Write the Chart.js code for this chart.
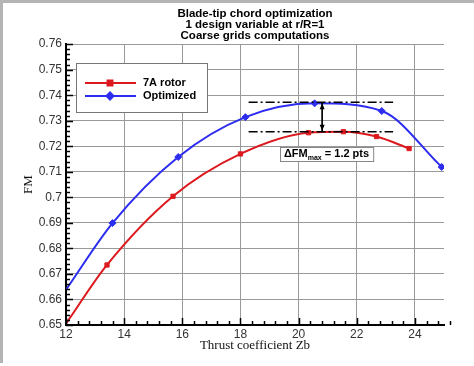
<!DOCTYPE html>
<html lang="en">
<head>
  <meta charset="UTF-8">
  <title>Blade-tip chord optimization</title>
  <script src="https://cdn.jsdelivr.net/npm/chart.js"></script>
  <style>
    body {
      margin: 0;
      background-color: #fff;
    }
    #myChart {
      display: block;
    }
  </style>
</head>
<body>
  <canvas id="myChart" width="474" height="366"></canvas>

  <script>
    // Values.
    const titleLines = ['Blade-tip chord optimization', '1 design variable at r/R=1', 'Coarse grids computations'];
    const xTicks = [12, 14, 16, 18, 20, 22, 24];
    const yTicks = [0.65, 0.66, 0.67, 0.68, 0.69, 0.7, 0.71, 0.72, 0.73, 0.74, 0.75, 0.76];

    // 7A rotor: first point is the curve start only (no symbol)
    const rotorX = [12, 13.41, 15.68, 18.0, 20.34, 21.54, 22.68, 23.8];
    const rotorY = [0.6505, 0.6735, 0.7004, 0.7170, 0.7253, 0.7257, 0.7238, 0.7191];
    const rotorMarked = [false, true, true, true, true, true, true, true];

    const optX = [12, 13.6, 15.86, 18.17, 20.55, 22.86, 24.92];
    const optY = [0.6638, 0.6899, 0.7158, 0.7314, 0.7368, 0.7338, 0.7119];
    const optMarked = [false, true, true, true, true, true, true];

    // dash-dot reference levels and the arrow between them
    const refLineX = [18.28, 23.25];
    const refTopY = 0.7372;
    const refBottomY = 0.7257;
    const arrowX = 20.81;
    const noteX = 20.96;
    const noteY = 0.7169;

    const xMinorStep = 0.4;
    const yMinorStep = 0.002;

    const red = 'rgb(220, 25, 30)';
    const blue = 'rgb(45, 45, 240)';

    function toPoints(xs, ys) {
      return xs.map((x, i) => ({ x: x, y: ys[i] }));
    }

    // gray frame on top/left like the original figure
    const framePlugin = {
      id: 'frame',
      beforeDraw(chart) {
        const ctx = chart.ctx;
        ctx.save();
        ctx.fillStyle = '#fff';
        ctx.fillRect(0, 0, chart.width, chart.height);
        ctx.fillStyle = '#b4b4b4';
        ctx.fillRect(0, 0, chart.width, 3);
        ctx.fillRect(0, 0, 3, 363);
        ctx.restore();
      }
    };

    // inward major/minor tick marks, legend box, delta note
    const extrasPlugin = {
      id: 'extras',
      afterDraw(chart) {
        const ctx = chart.ctx;
        const xs = chart.scales.x;
        const ys = chart.scales.y;
        const area = chart.chartArea;
        ctx.save();
        ctx.strokeStyle = '#000';
        ctx.lineWidth = 1.5;
        ctx.beginPath();
        const nX = Math.round((xs.max - xs.min) / xMinorStep);
        for (let i = 0; i <= nX; i++) {
          const px = Math.round(xs.getPixelForValue(xs.min + i * xMinorStep)) + 0.5;
          const len = (i % 5 === 0) ? 7 : 4;
          ctx.moveTo(px, area.bottom);
          ctx.lineTo(px, area.bottom - len);
        }
        const nY = Math.round((ys.max - ys.min) / yMinorStep);
        for (let i = 0; i <= nY; i++) {
          const py = Math.round(ys.getPixelForValue(ys.min + i * yMinorStep)) + 0.5;
          const len = (i % 5 === 0) ? 7 : 4;
          ctx.moveTo(area.left, py);
          ctx.lineTo(area.left + len, py);
        }
        ctx.stroke();

        // legend
        ctx.fillStyle = '#fff';
        ctx.fillRect(76, 63, 131, 49);
        ctx.strokeStyle = '#777';
        ctx.lineWidth = 1;
        ctx.strokeRect(76.5, 63.5, 131, 49);
        const entries = [
          { label: '7A rotor', color: red, y: 83, style: 'rect' },
          { label: 'Optimized', color: blue, y: 96, style: 'rectRot' }
        ];
        entries.forEach(e => {
          ctx.strokeStyle = e.color;
          ctx.lineWidth = 2;
          ctx.beginPath();
          ctx.moveTo(85, e.y);
          ctx.lineTo(136, e.y);
          ctx.stroke();
          ctx.fillStyle = e.color;
          Chart.helpers.drawPoint(ctx, { pointStyle: e.style, radius: 3.5, rotation: 0, borderWidth: 1 }, 110, e.y);
          ctx.fillStyle = '#000';
          ctx.font = 'bold 11px "Liberation Sans", Arial, sans-serif';
          ctx.textBaseline = 'middle';
          ctx.textAlign = 'left';
          ctx.fillText(e.label, 143, e.y);
        });

        // arrow heads
        const ax = xs.getPixelForValue(arrowX);
        const top = ys.getPixelForValue(refTopY);
        const bot = ys.getPixelForValue(refBottomY);
        ctx.fillStyle = '#000';
        ctx.beginPath();
        ctx.moveTo(ax, top + 1);
        ctx.lineTo(ax - 2.5, top + 7);
        ctx.lineTo(ax + 2.5, top + 7);
        ctx.closePath();
        ctx.moveTo(ax, bot - 1);
        ctx.lineTo(ax - 2.5, bot - 7);
        ctx.lineTo(ax + 2.5, bot - 7);
        ctx.closePath();
        ctx.fill();

        // delta FM note
        const cx = xs.getPixelForValue(noteX);
        const cy = ys.getPixelForValue(noteY);
        const big = 'bold 11px "Liberation Sans", Arial, sans-serif';
        const small = 'bold 7px "Liberation Sans", Arial, sans-serif';
        ctx.font = big;
        const w1 = ctx.measureText('\u0394FM').width;
        const w3 = ctx.measureText(' = 1.2 pts').width;
        ctx.font = small;
        const w2 = ctx.measureText('max').width;
        const tw = w1 + w2 + w3;
        const bw = tw + 8;
        const bh = 14;
        const bx = Math.round(cx - bw / 2) + 0.5;
        const by = Math.round(cy - bh / 2) + 0.5;
        ctx.fillStyle = '#fff';
        ctx.fillRect(bx, by, bw, bh);
        ctx.strokeStyle = '#888';
        ctx.lineWidth = 1;
        ctx.strokeRect(bx, by, bw, bh);
        ctx.fillStyle = '#000';
        ctx.textAlign = 'left';
        ctx.textBaseline = 'middle';
        let tx = cx - tw / 2;
        ctx.font = big;
        ctx.fillText('\u0394FM', tx, cy);
        tx += w1;
        ctx.font = small;
        ctx.fillText('max', tx, cy + 4);
        tx += w2;
        ctx.font = big;
        ctx.fillText(' = 1.2 pts', tx, cy);
        ctx.restore();
      }
    };

    const dashDot = [9, 3, 2, 3];

    const ctx = document.getElementById('myChart').getContext('2d');
    const chart = new Chart(ctx, {
      type: 'scatter',
      data: {
        datasets: [
          {
            label: 'ref top',
            data: refLineX.map(x => ({ x: x, y: refTopY })),
            showLine: true,
            borderColor: '#000',
            borderWidth: 1.5,
            borderDash: dashDot,
            pointRadius: 0
          },
          {
            label: 'ref bottom',
            data: refLineX.map(x => ({ x: x, y: refBottomY })),
            showLine: true,
            borderColor: '#000',
            borderWidth: 1.5,
            borderDash: dashDot,
            pointRadius: 0
          },
          {
            label: 'arrow',
            data: [{ x: arrowX, y: refTopY }, { x: arrowX, y: refBottomY }],
            showLine: true,
            borderColor: '#000',
            borderWidth: 1,
            pointRadius: 0
          },
          {
            label: '7A rotor',
            data: toPoints(rotorX, rotorY),
            showLine: true,
            borderColor: red,
            backgroundColor: red,
            borderWidth: 2,
            cubicInterpolationMode: 'monotone',
            pointStyle: 'rect',
            pointRadius: rotorMarked.map(m => m ? 3 : 0),
            pointBorderWidth: 1
          },
          {
            label: 'Optimized',
            data: toPoints(optX, optY),
            showLine: true,
            borderColor: blue,
            backgroundColor: blue,
            borderWidth: 2,
            cubicInterpolationMode: 'monotone',
            pointStyle: 'rectRot',
            pointRadius: optMarked.map(m => m ? 3.5 : 0),
            pointBorderWidth: 1
          }
        ]
      },
      options: {
        responsive: false,
        animation: false,
        layout: {
          padding: { left: 0, right: 30, top: 0, bottom: 0 }
        },
        plugins: {
          legend: { display: false },
          tooltip: { enabled: false },
          title: {
            display: true,
            fullSize: false,
            text: titleLines,
            color: '#000',
            font: { family: '"Liberation Sans", Arial, sans-serif', size: 11.5, weight: 'bold', lineHeight: 0.96 },
            padding: { top: 8, bottom: 3 }
          }
        },
        scales: {
          x: {
            type: 'linear',
            min: 12,
            max: 25,
            afterBuildTicks: scale => { scale.ticks = xTicks.map(v => ({ value: v })); },
            afterFit: scale => { scale.height = 41; },
            grid: { color: '#999', lineWidth: 1, drawTicks: false },
            border: { display: true, color: '#000', width: 2 },
            ticks: {
              color: '#333',
              padding: 2,
              maxRotation: 0,
              font: { family: '"Liberation Sans", Arial, sans-serif', size: 12 }
            },
            title: {
              display: true,
              text: 'Thrust coefficient Zb',
              color: '#111',
              font: { family: '"Liberation Serif", "Times New Roman", serif', size: 13 },
              padding: { top: 0, bottom: 13 }
            }
          },
          y: {
            type: 'linear',
            min: 0.65,
            max: 0.76,
            afterBuildTicks: scale => { scale.ticks = yTicks.map(v => ({ value: v })); },
            afterFit: scale => { scale.width = 66; },
            grid: { color: '#999', lineWidth: 1, drawTicks: false },
            border: { display: true, color: '#000', width: 2 },
            ticks: {
              color: '#333',
              padding: 4,
              font: { family: '"Liberation Sans", Arial, sans-serif', size: 12 },
              callback: v => String(Math.round(v * 100) / 100)
            },
            title: {
              display: true,
              text: 'FM',
              color: '#111',
              font: { family: '"Liberation Serif", "Times New Roman", serif', size: 13 },
              padding: { top: 21, bottom: 0 }
            }
          }
        }
      },
      plugins: [framePlugin, extrasPlugin]
    });
  </script>
</body>
</html>
